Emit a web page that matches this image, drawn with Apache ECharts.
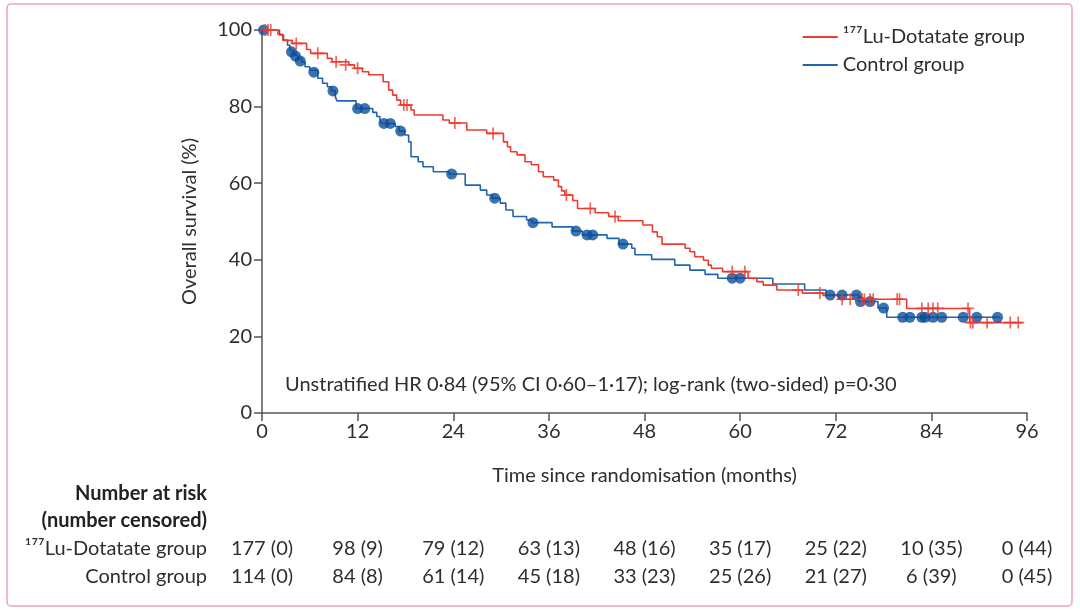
<!DOCTYPE html>
<html><head><meta charset="utf-8">
<script src="https://cdn.jsdelivr.net/npm/echarts@6/dist/echarts.min.js"></script>
<style>html,body{margin:0;padding:0;background:#fff}#c{width:1080px;height:611px}</style>
</head><body><div id="c"></div>
<script>
// Kaplan-Meier step points [month, survival %] (value holds from that month onward)
const luSteps = [[0,100],[2.0,98.9],[2.6,97.3],[3.8,96.5],[5.6,94.9],[6.1,93.9],[8.2,92.6],[8.8,91.7],[10.9,90.9],[11.6,90.0],[12.6,89.1],[13.4,88.3],[15.2,86.5],[15.9,84.3],[16.4,83.0],[16.9,81.7],[17.4,80.4],[18.7,79.1],[19.1,77.8],[22.7,76.5],[23.5,75.7],[25.7,73.9],[28.2,73.0],[30.3,70.8],[30.8,69.5],[31.2,68.2],[32.0,67.4],[33.0,65.6],[33.8,64.8],[34.7,63.0],[35.3,61.7],[36.6,60.8],[37.2,59.1],[37.6,58.0],[38.0,56.9],[39.0,55.5],[39.6,53.4],[41.8,52.3],[43.5,51.3],[44.7,50.2],[47.8,49.1],[49.0,47.3],[49.6,46.0],[50.2,44.1],[53.1,43.0],[53.7,42.1],[54.3,40.8],[55.4,39.9],[56.0,38.6],[56.4,37.8],[57.8,36.9],[61.0,35.2],[62.1,34.3],[62.9,33.4],[64.6,32.1],[67.8,31.3],[70.4,30.7],[72.4,29.7],[80.9,27.3],[88.8,23.6],[95.4,23.6]];
const ctrlSteps = [[0,100],[2.2,98.7],[2.7,97.4],[3.2,96.0],[3.5,94.7],[3.9,93.5],[4.5,92.5],[5.0,91.6],[5.4,90.4],[6.0,89.5],[7.0,87.4],[7.6,86.1],[8.2,85.2],[8.7,84.1],[9.2,82.6],[9.4,81.5],[11.8,79.5],[13.9,78.5],[14.4,77.4],[14.8,76.4],[15.0,75.6],[16.7,74.8],[17.2,73.6],[17.9,72.6],[18.4,70.8],[18.7,66.9],[19.6,65.6],[20.2,64.3],[21.5,63.0],[23.5,62.4],[25.5,59.5],[27.4,58.2],[28.2,56.9],[28.9,56.1],[29.9,54.8],[30.6,53.0],[31.5,51.3],[33.2,50.4],[33.9,49.7],[36.4,48.6],[39.0,47.5],[40.2,46.5],[43.3,45.6],[44.8,44.1],[46.4,43.0],[46.8,41.3],[48.9,40.1],[51.8,38.6],[53.7,37.3],[55.6,36.2],[57.2,35.2],[64.1,33.7],[68.1,32.1],[70.8,30.8],[74.9,29.1],[77.3,27.4],[78.4,25.0],[92.6,25.0]];
// censored observations
const luCensored = [[0.4,100],[0.75,100],[1.1,100],[4.3,96.5],[7.0,93.9],[9.3,91.7],[10.5,90.9],[12.0,90.0],[17.8,80.4],[18.2,80.4],[24.2,75.7],[29.0,73.0],[38.2,56.9],[41.2,53.4],[44.3,51.3],[59.0,36.9],[60.6,36.9],[67.3,32.1],[70.0,31.3],[72.8,29.7],[73.8,29.7],[75.3,29.7],[75.6,29.7],[76.3,29.7],[76.7,29.7],[79.7,29.7],[80.0,29.7],[82.8,27.3],[83.6,27.3],[84.2,27.3],[84.8,27.3],[88.6,27.3],[88.9,23.6],[89.2,23.6],[91.0,23.6],[93.9,23.6],[94.9,23.6]];
const ctrlCensored = [[0.2,100],[3.7,94.3],[4.2,93.2],[4.8,91.9],[6.5,89.0],[8.9,84.1],[12.0,79.5],[12.9,79.5],[15.3,75.6],[16.1,75.6],[17.4,73.6],[23.8,62.4],[29.2,56.1],[34.0,49.7],[39.4,47.5],[40.8,46.5],[41.5,46.5],[45.3,44.1],[59.0,35.2],[60.0,35.2],[71.3,30.8],[72.8,30.8],[74.6,30.8],[75.1,29.1],[76.3,29.1],[78.0,27.4],[80.4,25.0],[81.3,25.0],[82.8,25.0],[83.2,25.0],[84.2,25.0],[85.3,25.0],[88.0,25.0],[89.7,25.0],[92.3,25.0]];
// number at risk table
const riskTimes = [0,12,24,36,48,60,72,84,96];
const luRisk = ['177 (0)','98 (9)','79 (12)','63 (13)','48 (16)','35 (17)','25 (22)','10 (35)','0 (44)'];
const ctrlRisk = ['114 (0)','84 (8)','61 (14)','45 (18)','33 (23)','25 (26)','21 (27)','6 (39)','0 (45)'];
const seriesNames = ['\u00B9\u2077\u2077Lu-Dotatate group','Control group'];
const annotation = 'Unstratified HR 0\u00B784 (95% CI 0\u00B760\u20131\u00B717); log-rank (two-sided) p=0\u00B730';

const RED = '#ee3b2f', BLUE = '#2065ad', DOT = '#0b4f9a';
const FONT = 'Lato';
const FS = 20;
const TXT = '#2e2e2e';
const crossPath = 'path://M4.3,0H5.7V4.3H10V5.7H5.7V10H4.3V5.7H0V4.3H4.3Z';

const chart = echarts.init(document.getElementById('c'), null, {renderer:'canvas'});
const axisLine = {show:true, lineStyle:{color:'#555', width:1.5}};
chart.setOption({
  animation:false,
  textStyle:{fontFamily:FONT},
  grid:{left:262, right:53, top:30, bottom:198, containLabel:false},
  legend:{
    right:50, top:22, orient:'vertical', itemGap:8,
    itemWidth:35, itemHeight:2,
    textStyle:{fontFamily:FONT, fontSize:FS, color:TXT},
    data:[{name:seriesNames[0], icon:'rect'},{name:seriesNames[1], icon:'rect'}]
  },
  xAxis:{type:'value', min:0, max:96, interval:12,
    axisLine:axisLine, axisTick:{show:true, length:8, lineStyle:{color:'#555', width:1.5}},
    axisLabel:{fontSize:FS, color:TXT, margin:9, fontFamily:FONT},
    splitLine:{show:false},
    name:'Time since randomisation (months)', nameLocation:'middle', nameGap:53,
    nameTextStyle:{fontSize:FS, color:TXT, fontFamily:FONT}},
  yAxis:{type:'value', min:0, max:100, interval:20,
    axisLine:axisLine, axisTick:{show:true, length:8, lineStyle:{color:'#555', width:1.5}},
    axisLabel:{fontSize:FS, color:TXT, margin:10, fontFamily:FONT},
    splitLine:{show:false},
    name:'Overall survival (%)', nameLocation:'middle', nameGap:62,
    nameTextStyle:{fontSize:FS, color:TXT, fontFamily:FONT}},
  series:[
    {name:seriesNames[1], type:'line', step:'end', data:ctrlSteps, showSymbol:false, color:BLUE,
      lineStyle:{color:BLUE, width:1.6}, z:2},
    {name:seriesNames[0], type:'line', step:'end', data:luSteps, showSymbol:false, color:RED,
      lineStyle:{color:RED, width:1.6}, z:3},
    {name:'ctrlCens', type:'scatter', data:ctrlCensored, symbol:'circle', symbolSize:11,
      itemStyle:{color:DOT}, z:4},
    {name:'luCens', type:'scatter', data:luCensored, symbol:crossPath, symbolSize:12,
      itemStyle:{color:RED}, z:5}
  ]
});

const g = [];
g.push({type:'rect', shape:{x:7, y:4, width:1065, height:602, r:4},
  style:{fill:'none', stroke:'#eaa2b6', lineWidth:1.5}, silent:true});
g.push({type:'text', x:285, y:385, style:{text:annotation, fontSize:FS, fill:TXT, fontFamily:FONT, verticalAlign:'middle'}});
const rowY = [494, 521, 549, 577];
const lbl = (text, y, bold) => ({type:'text', x:207, y:y, style:{text:text, fontSize:FS, fontWeight:bold?'bold':'normal', fill:bold?'#222':TXT, fontFamily:FONT, align:'right', verticalAlign:'middle'}});
g.push(lbl('Number at risk', rowY[0], true));
g.push(lbl('(number censored)', rowY[1], true));
g.push(lbl(seriesNames[0], rowY[2], false));
g.push(lbl(seriesNames[1], rowY[3], false));
riskTimes.forEach((t,i)=>{
  const px = chart.convertToPixel({xAxisIndex:0}, t);
  g.push({type:'text', x:px, y:rowY[2], style:{text:luRisk[i], fontSize:FS, fill:TXT, fontFamily:FONT, align:'center', verticalAlign:'middle'}});
  g.push({type:'text', x:px, y:rowY[3], style:{text:ctrlRisk[i], fontSize:FS, fill:TXT, fontFamily:FONT, align:'center', verticalAlign:'middle'}});
});
chart.setOption({graphic:g});
</script>
</body></html>
